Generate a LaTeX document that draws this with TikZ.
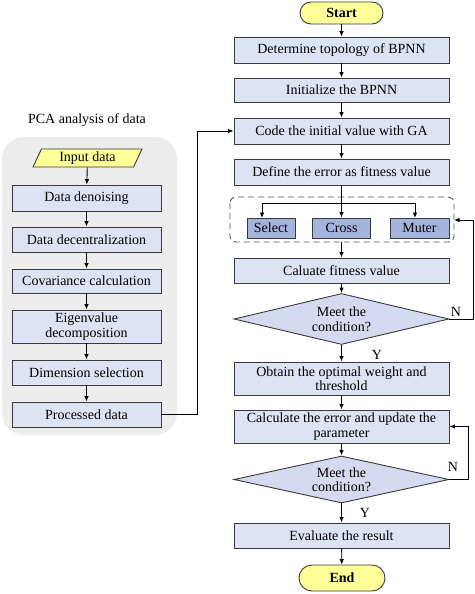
\documentclass[tikz,border=0pt]{standalone}
\usepackage{fontspec}
\setmainfont{Liberation Serif}
\usetikzlibrary{shapes.geometric,arrows.meta,calc}
\definecolor{boxfill}{HTML}{DCE4F4}
\definecolor{boxline}{HTML}{3A3A3A}
\definecolor{gafill}{HTML}{A3B4DC}
\definecolor{diafill}{HTML}{D4DAF0}
\definecolor{yel}{HTML}{FFFF99}
\definecolor{bggray}{HTML}{EDEDED}
\definecolor{dashgray}{HTML}{555555}
\tikzset{
  pbox/.style={draw=boxline,fill=boxfill,line width=0.9pt,minimum height=26pt,inner sep=1pt,align=center,font=\fontsize{14}{14.5}\selectfont},
  rbox/.style={pbox,minimum width=215pt},
  lbox/.style={pbox,minimum width=149pt},
  gabox/.style={draw=boxline,fill=gafill,line width=0.9pt,minimum height=20pt,inner sep=1pt,font=\fontsize{14}{14.5}\selectfont},
  dia/.style={draw=boxline,fill=diafill,line width=0.9pt,diamond,aspect=4.2,inner sep=0pt,align=center,font=\fontsize{14}{14.5}\selectfont},
  term/.style={draw=boxline,fill=yel,line width=0.9pt,rounded corners=11pt,minimum height=22pt,font=\bfseries\fontsize{14}{14.5}\selectfont},
  arr/.style={-{Latex[length=5.5pt,width=4.5pt]},line width=0.9pt,draw=black},
  lab/.style={font=\fontsize{14}{14.5}\selectfont,inner sep=0pt}
}
\begin{document}
\begin{tikzpicture}[x=1pt,y=-1pt]
\useasboundingbox (0,0) rectangle (474,594);
% left background
\fill[bggray,rounded corners=22pt] (2,137) rectangle (177,435);
\node[lab] (title) at (87,120) {PCA analysis of data};
\node[draw=boxline,fill=yel,line width=0.9pt,trapezium,trapezium left angle=68,trapezium right angle=112,trapezium stretches=true,minimum width=109pt,minimum height=18pt,inner sep=0pt,font=\fontsize{14}{14.5}\selectfont] (in) at (87.5,158) {Input data};
\node[lbox,minimum height=26pt] (dn) at (86.5,198) {Data denoising};
\node[lbox,minimum height=25pt] (dc) at (86.5,239.5) {Data decentralization};
\node[lbox,minimum height=24pt] (cv) at (86.5,281) {Covariance calculation};
\node[lbox,minimum height=33pt] (ev) at (86.5,326.5) {Eigenvalue\\decomposition};
\node[lbox,minimum height=25pt] (ds) at (86.5,372.5) {Dimension selection};
\node[lbox,minimum height=25pt] (pd) at (86.5,414.5) {Processed data};
\draw[arr] (in) -- (dn);
\draw[arr] (dn) -- (dc);
\draw[arr] (dc) -- (cv);
\draw[arr] (cv) -- (ev);
\draw[arr] (ev) -- (ds);
\draw[arr] (ds) -- (pd);
% right column
\node[term,minimum width=83pt] (st) at (341.5,13) {Start};
\node[rbox] (det) at (341.5,50) {Determine topology of BPNN};
\node[rbox,minimum height=24pt] (ini) at (341.5,90) {Initialize the BPNN};
\node[rbox] (code) at (341.5,131) {Code the initial value with GA};
\node[rbox] (def) at (341.5,172) {Define the error as fitness value};
\draw[dashed,dash pattern=on 6pt off 4pt,draw=dashgray,line width=0.9pt,rounded corners=6pt] (230,197) rectangle (454,242);
\coordinate (gaR) at (454,220);
\node[gabox,minimum width=48pt] (sel) at (271,228) {Select};
\node[gabox,minimum width=58pt] (cro) at (341.5,228) {Cross};
\node[gabox,minimum width=59pt] (mut) at (419.5,228) {Muter};
\node[rbox,minimum height=25pt] (fit) at (341.5,270.5) {Caluate fitness value};
\node[dia,minimum width=215pt,minimum height=51pt] (d1) at (341.5,319) {Meet the\\condition?};
\node[rbox,minimum height=33pt] (obt) at (341.5,378.5) {Obtain the optimal weight and\\threshold};
\node[rbox,minimum height=33pt] (cal) at (341.5,426.5) {Calculate the error and update the\\parameter};
\node[dia,minimum width=215pt,minimum height=47pt] (d2) at (341.5,479.5) {Meet the\\condition?};
\node[rbox,minimum height=25pt] (eva) at (341.5,535.5) {Evaluate the result};
\node[term,minimum width=86pt,minimum height=26pt,rounded corners=13pt] (en) at (342,578) {End};
\draw[arr] (st) -- (det);
\draw[arr] (det) -- (ini);
\draw[arr] (ini) -- (code);
\draw[arr] (code) -- (def);
\draw[arr] (def) -- (cro);
\coordinate (split) at (341.5,203);
\draw[arr] (split) -| (262,218);
\draw[arr] (split) -| (415,218);
\draw[arr] (341.5,242) -- (fit);
\draw[arr] (fit) -- (d1);
\draw[arr] (d1) -- (obt);
\draw[arr] (obt) -- (cal);
\draw[arr] (cal) -- (d2);
\draw[arr] (d2) -- (eva);
\draw[arr] (eva) -- (en);
\draw[arr] (d1.east) -- (473,319) |- (gaR);
\draw[arr] (d2.east) -- (468,479.5) |- (cal.east);
\node[lab] (n1) at (456,312) {N};
\node[lab] (y1) at (377,355) {Y};
\node[lab] (n2) at (453,467) {N};
\node[lab] (y2) at (365,513) {Y};
\draw[arr] (pd.east) -- (197,414.5) |- (code.west);
\end{tikzpicture}
\end{document}
